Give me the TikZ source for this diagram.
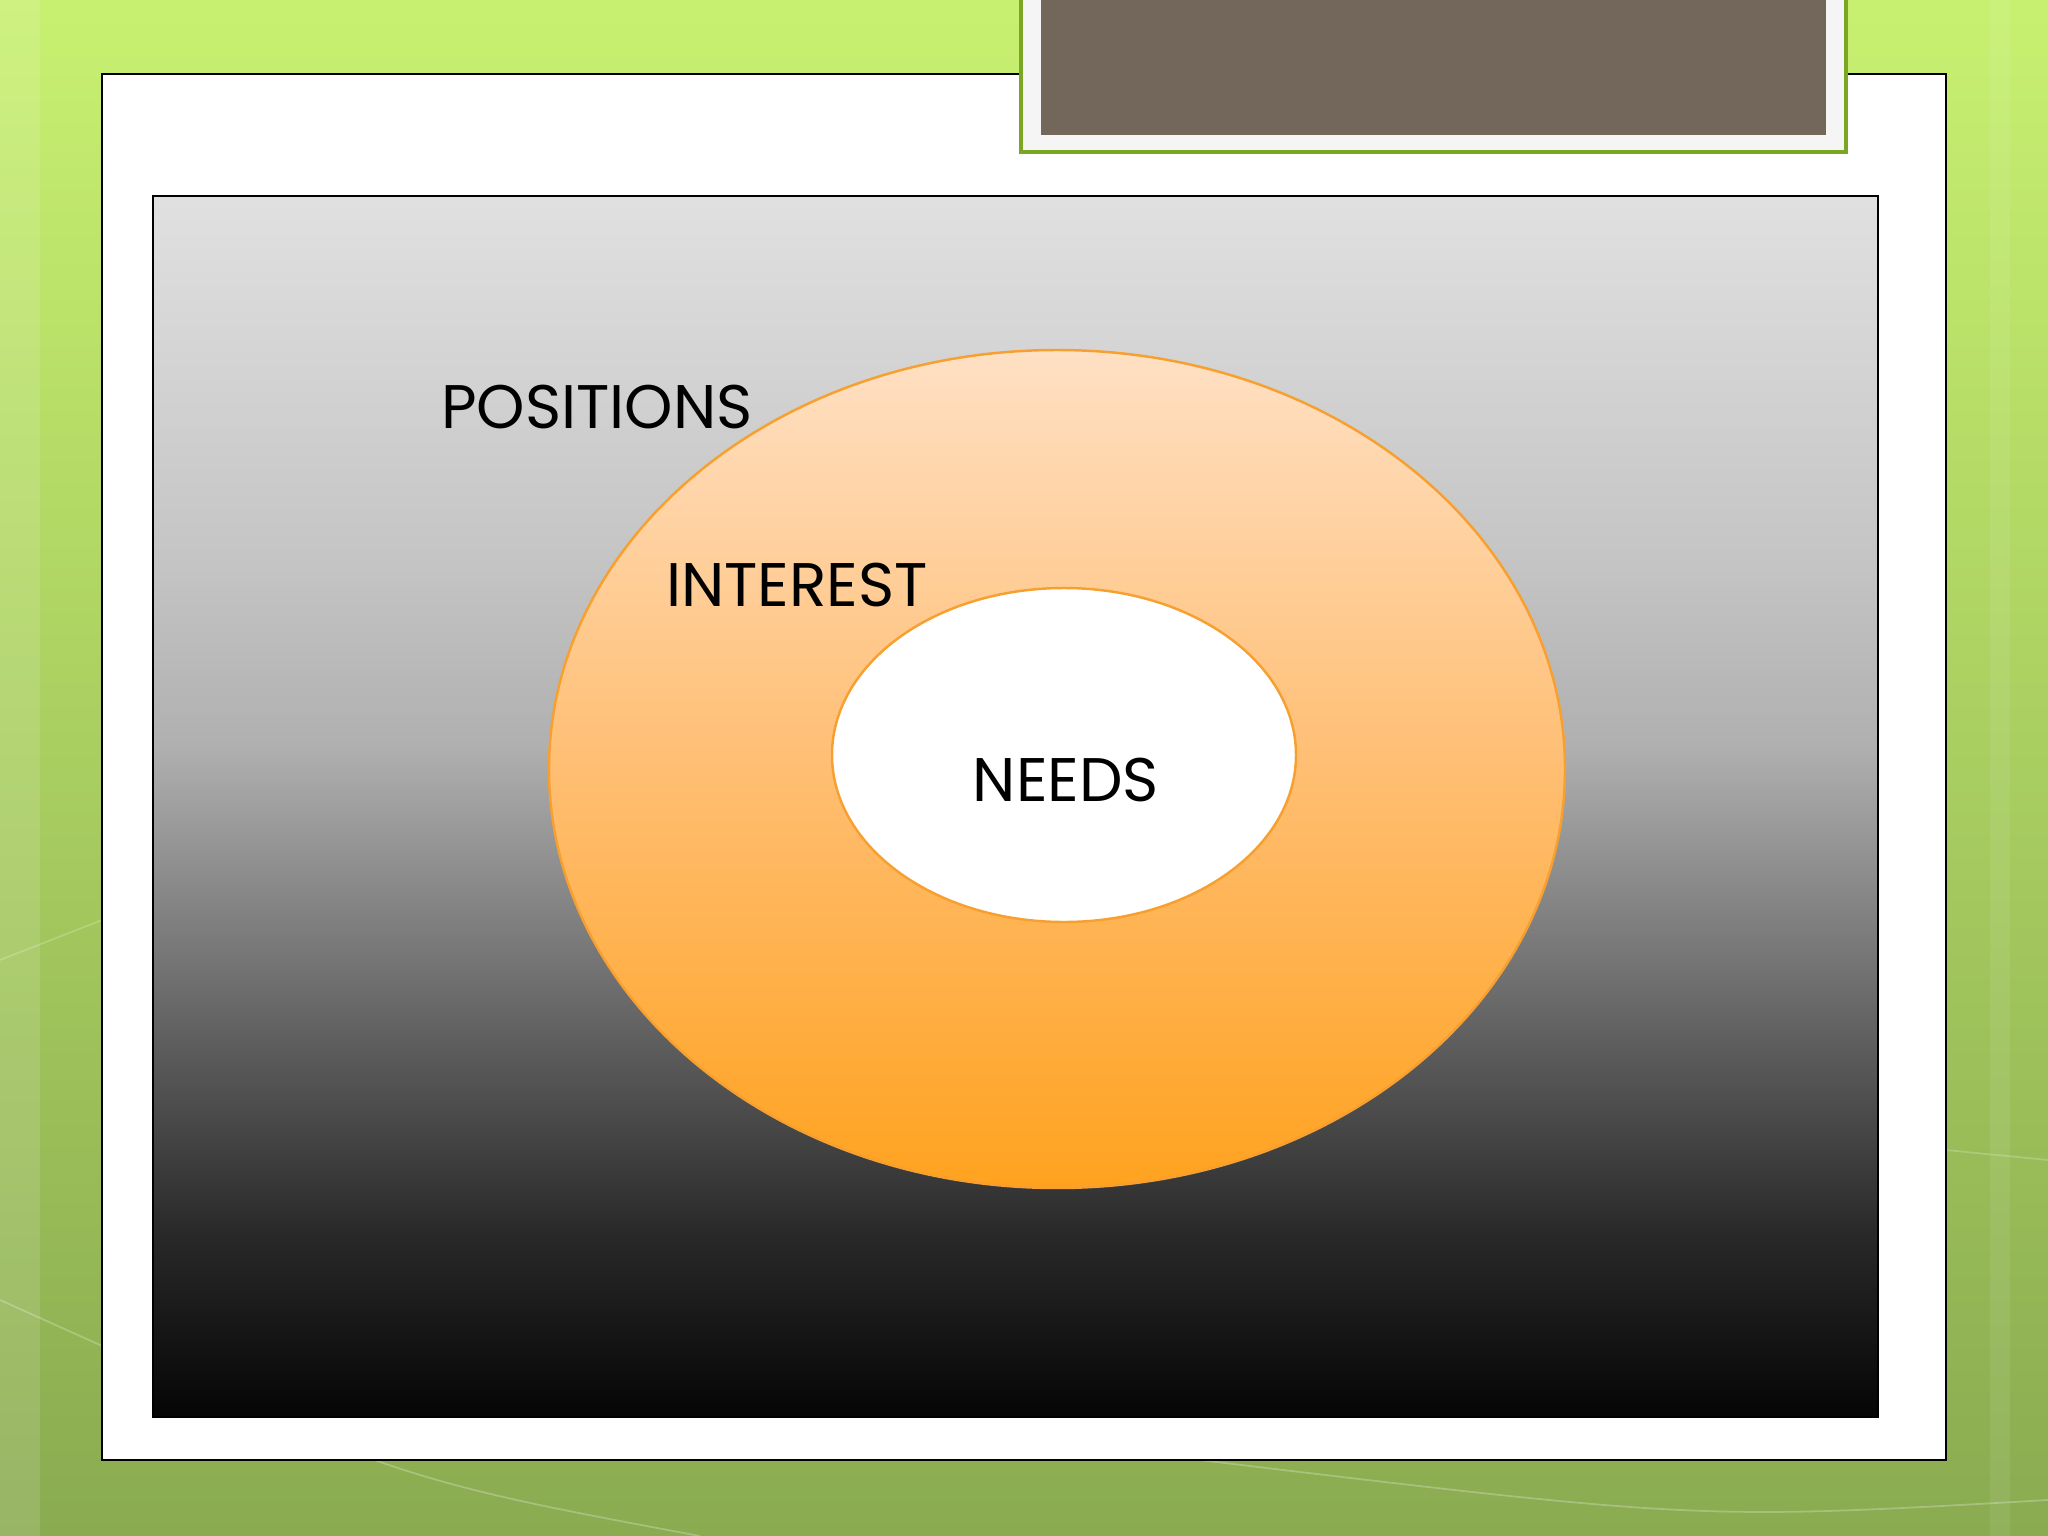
\documentclass[tikz,border=0pt]{standalone}
\usepackage{fontspec}
\setmainfont{Poppins}
\usetikzlibrary{shapes.geometric}

\definecolor{fondoalto}{HTML}{C8F070}
\definecolor{fondobasso}{HTML}{8AAB50}
\definecolor{verdebordo}{HTML}{7AA623}
\definecolor{marrone}{HTML}{72675A}
\definecolor{arancio}{HTML}{F7A030}
\definecolor{pesca}{HTML}{FFE0C4}
\definecolor{aranciomedio}{HTML}{FFBE72}
\definecolor{aranciobasso}{HTML}{FFA21F}

\pgfdeclareverticalshading{lavagna}{100bp}{
  color(0bp)=(black!98); color(25bp)=(black!98);
  color(32.5bp)=(black!84); color(40bp)=(black!64);
  color(52.5bp)=(black!31); color(60bp)=(black!23);
  color(75bp)=(black!12); color(100bp)=(black!12)}

\begin{document}
\begin{tikzpicture}[x=0.01cm, y=-0.01cm,
    etichetta/.style={font=\fontsize{17.5}{21}\selectfont, text=black, inner sep=0pt},
    anello/.style={ellipse, draw=arancio, line width=0.7pt, inner sep=0pt}]
	\useasboundingbox (0,0) rectangle (2048,1536);
	
	% Sfondo verde
	\shade[top color=fondoalto, bottom color=fondobasso] (0,0) rectangle (2048,1536);
	\fill[white, opacity=0.12] (0,0) rectangle (40,1536);
	\fill[white, opacity=0.08] (1990,0) rectangle (2010,1536);
	\draw[white, opacity=0.25, line width=0.5pt] (0,1300) .. controls (400,1480) .. (700,1536);
	\draw[white, opacity=0.25, line width=0.5pt] (1200,1460) .. controls (1700,1520) .. (2048,1500);
	\draw[white, opacity=0.2, line width=0.5pt] (0,960) -- (102,920);
	\draw[white, opacity=0.2, line width=0.5pt] (1946,1150) -- (2048,1160);
	
	% Cornice bianca
	\node[draw=black, fill=white, line width=0.6pt, minimum width=1844*0.01cm, minimum height=1386*0.01cm, inner sep=0pt] (cornice) at (1024,767) {};
	
	% Box del titolo
	\node[draw=verdebordo, fill=black!4, line width=1pt, minimum width=825*0.01cm, minimum height=156*0.01cm, inner sep=0pt] (titolo) at (1433.5,74) {};
	\node[fill=marrone, minimum width=785*0.01cm, minimum height=135*0.01cm, inner sep=0pt] (barra) at (1433.5,67.5) {};
	
	% Lavagna grigia
	\node[draw=black, shading=lavagna, line width=0.6pt, minimum width=1725*0.01cm, minimum height=1221*0.01cm, inner sep=0pt] (lavagna) at (1015.5,806.5) {};
	
	% Ellissi
	\node[anello, top color=pesca, bottom color=aranciobasso, middle color=aranciomedio, minimum width=1016*0.01cm, minimum height=838*0.01cm] (esterno) at (1057,769) {};
	\node[anello, fill=white, minimum width=464*0.01cm, minimum height=334*0.01cm] (interno) at (1064,755) {};
	
	% Testi
	\node[etichetta] (positions) at (597,407) {POSITIONS};
	\node[etichetta] (interest) at (797,585) {INTEREST};
	\node[etichetta] (needs) at (1066,780) {NEEDS};
	
\end{tikzpicture}
\end{document}
